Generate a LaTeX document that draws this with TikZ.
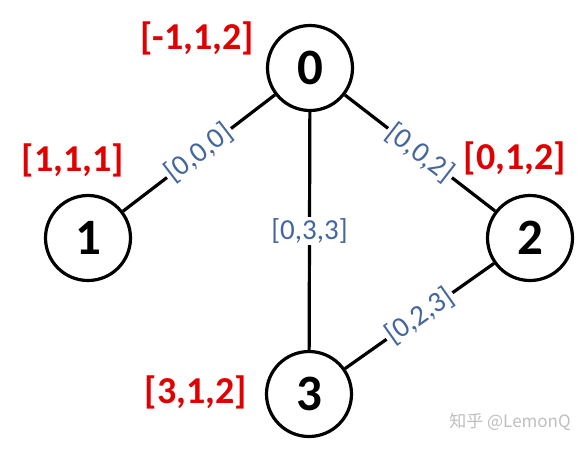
\documentclass[tikz,border=0pt]{standalone}
\usepackage{fontspec}
\setmainfont{Carlito}
\newfontfamily\cjk{Noto Sans CJK SC}
\definecolor{lblred}{RGB}{224,0,0}
\definecolor{lblblue}{RGB}{68,102,160}
\definecolor{wmgray}{RGB}{190,190,190}
\begin{document}
\begin{tikzpicture}[x=1pt,y=-1pt,
  vert/.style={circle,draw=black,line width=3.2pt,minimum size=85pt,inner sep=0pt,font=\fontsize{51}{51}\selectfont\bfseries},
  conn/.style={line width=3.2pt,black},
  elabel/.style={fill=white,inner sep=2pt,text=lblblue,font=\fontsize{29}{29}\selectfont},
  vlabel/.style={text=lblred,inner sep=0pt,font=\fontsize{38}{38}\selectfont\bfseries},
]
\useasboundingbox (0,0) rectangle (588,448);
\node[vert] (n0) at (310,68) {0};
\node[vert] (n1) at (88,238) {1};
\node[vert] (n2) at (530,238) {2};
\node[vert] (n3) at (309,394) {3};
\draw[conn] (n0) -- node[elabel,sloped] {[0,0,0]} (n1);
\draw[conn] (n0) -- node[elabel,sloped] {[0,0,2]} (n2);
\draw[conn] (n0) -- node[elabel] {[0,3,3]} (n3);
\draw[conn] (n2) -- node[elabel,sloped] {[0,2,3]} (n3);
\node[vlabel] (l0) at (197,38) {[-1,1,2]};
\node[vlabel] (l1) at (73,160) {[1,1,1]};
\node[vlabel] (l2) at (515,158) {[0,1,2]};
\node[vlabel] (l3) at (196,392) {[3,1,2]};
\node[text=wmgray,inner sep=0pt,font=\cjk\fontsize{17}{17}\selectfont] (wm) at (510,422) {知乎 @LemonQ};
\end{tikzpicture}
\end{document}
